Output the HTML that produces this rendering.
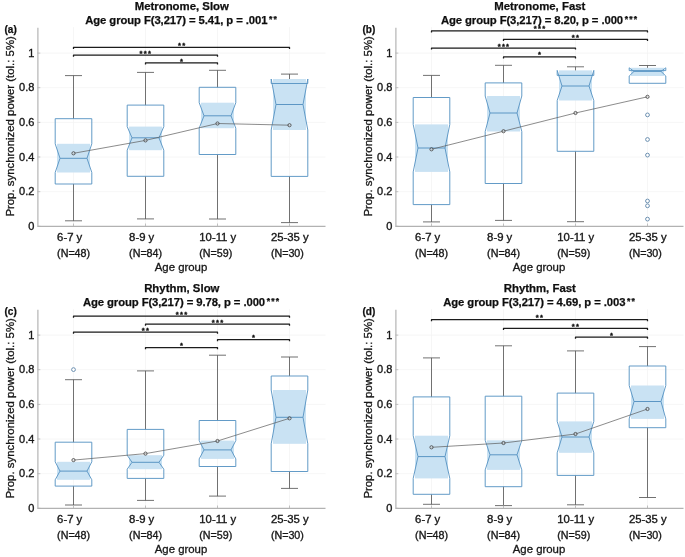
<!DOCTYPE html>
<html lang="en"><head><meta charset="utf-8"><title>Synchronized power by age group</title>
<style>html,body{margin:0;padding:0;background:#fff}body{width:685px;height:557px;overflow:hidden}svg{display:block}
text{font-family:"Liberation Sans", Arial, Helvetica, sans-serif;fill:#222}
.tk{font-size:10.2px;fill:#151515;stroke:#151515;stroke-width:0.32px}.lb{font-size:11.4px;fill:#151515;stroke:#151515;stroke-width:0.3px}.ti{font-size:11.4px;font-weight:bold;fill:#111;stroke:#111;stroke-width:0.25px}.lab{font-size:10px;font-weight:bold;fill:#111;stroke:#111;stroke-width:0.25px}.st{font-size:7.6px;font-weight:bold;fill:#111;letter-spacing:1.25px;stroke:#111;stroke-width:0.35px}
</style></head><body>
<svg width="685" height="557" viewBox="0 0 685 557">
<defs><filter id="soft" x="0" y="0" width="100%" height="100%"><feGaussianBlur stdDeviation="0.4"/></filter></defs>
<rect width="685" height="557" fill="#fff"/>
<g filter="url(#soft)">
<g>
<line x1="37.5" y1="191.7" x2="325.5" y2="191.7" stroke="#f4f4f4" stroke-width="0.8"/>
<line x1="37.5" y1="157.0" x2="325.5" y2="157.0" stroke="#f4f4f4" stroke-width="0.8"/>
<line x1="37.5" y1="122.4" x2="325.5" y2="122.4" stroke="#f4f4f4" stroke-width="0.8"/>
<line x1="37.5" y1="87.7" x2="325.5" y2="87.7" stroke="#f4f4f4" stroke-width="0.8"/>
<line x1="37.5" y1="53.1" x2="325.5" y2="53.1" stroke="#f4f4f4" stroke-width="0.8"/>
<line x1="73.5" y1="27.1" x2="73.5" y2="226.3" stroke="#f4f4f4" stroke-width="0.8"/>
<line x1="145.5" y1="27.1" x2="145.5" y2="226.3" stroke="#f4f4f4" stroke-width="0.8"/>
<line x1="217.5" y1="27.1" x2="217.5" y2="226.3" stroke="#f4f4f4" stroke-width="0.8"/>
<line x1="289.5" y1="27.1" x2="289.5" y2="226.3" stroke="#f4f4f4" stroke-width="0.8"/>
<rect x="57.0" y="143.8" width="33.0" height="28.7" fill="#c9e2f3"/>
<path d="M73.5 118.7V75.6M65.0 75.6H82.0" stroke="#585858" stroke-width="0.85" fill="none"/>
<path d="M73.5 184.0V220.8M65.0 220.8H82.0" stroke="#585858" stroke-width="0.85" fill="none"/>
<path d="M55.2 184.0 L55.2 172.5 L60.0 158.3 L55.2 143.8 L55.2 118.7 L91.8 118.7 L91.8 143.8 L87.0 158.3 L91.8 172.5 L91.8 184.0 Z" fill="none" stroke="#5b96c4" stroke-width="0.95" stroke-linejoin="round"/>
<line x1="60.0" y1="158.3" x2="87.0" y2="158.3" stroke="#5b96c4" stroke-width="1.0"/>
<rect x="129.0" y="126.6" width="33.0" height="23.6" fill="#c9e2f3"/>
<path d="M145.5 105.1V72.4M137.0 72.4H154.0" stroke="#585858" stroke-width="0.85" fill="none"/>
<path d="M145.5 176.3V218.9M137.0 218.9H154.0" stroke="#585858" stroke-width="0.85" fill="none"/>
<path d="M127.2 176.3 L127.2 150.2 L132.0 137.8 L127.2 126.6 L127.2 105.1 L163.8 105.1 L163.8 126.6 L159.0 137.8 L163.8 150.2 L163.8 176.3 Z" fill="none" stroke="#5b96c4" stroke-width="0.95" stroke-linejoin="round"/>
<line x1="132.0" y1="137.8" x2="159.0" y2="137.8" stroke="#5b96c4" stroke-width="1.0"/>
<rect x="201.0" y="102.7" width="33.0" height="25.5" fill="#c9e2f3"/>
<path d="M217.5 87.3V70.3M209.0 70.3H226.0" stroke="#585858" stroke-width="0.85" fill="none"/>
<path d="M217.5 154.5V219.0M209.0 219.0H226.0" stroke="#585858" stroke-width="0.85" fill="none"/>
<path d="M199.2 154.5 L199.2 128.2 L204.0 115.8 L199.2 102.7 L199.2 87.3 L235.8 87.3 L235.8 102.7 L231.0 115.8 L235.8 128.2 L235.8 154.5 Z" fill="none" stroke="#5b96c4" stroke-width="0.95" stroke-linejoin="round"/>
<line x1="204.0" y1="115.8" x2="231.0" y2="115.8" stroke="#5b96c4" stroke-width="1.0"/>
<rect x="273.0" y="79.0" width="33.0" height="51.0" fill="#c9e2f3"/>
<path d="M289.5 79.0V74.1M281.0 74.1H298.0" stroke="#585858" stroke-width="0.85" fill="none"/>
<path d="M289.5 176.4V222.6M281.0 222.6H298.0" stroke="#585858" stroke-width="0.85" fill="none"/>
<path d="M271.2 176.4 L271.2 130.0 L276.0 104.5 L271.2 79.0 L271.2 83.5 L307.8 83.5 L307.8 79.0 L303.0 104.5 L307.8 130.0 L307.8 176.4 Z" fill="none" stroke="#5b96c4" stroke-width="0.95" stroke-linejoin="round"/>
<line x1="276.0" y1="104.5" x2="303.0" y2="104.5" stroke="#5b96c4" stroke-width="1.0"/>
<polyline points="73.5,153.3 145.5,140.4 217.5,123.5 289.5,125.2" fill="none" stroke="#5a5a5a" stroke-width="0.7"/>
<circle cx="73.5" cy="153.3" r="1.6" fill="#fff" fill-opacity="0.3" stroke="#454545" stroke-width="0.85"/>
<circle cx="145.5" cy="140.4" r="1.6" fill="#fff" fill-opacity="0.3" stroke="#454545" stroke-width="0.85"/>
<circle cx="217.5" cy="123.5" r="1.6" fill="#fff" fill-opacity="0.3" stroke="#454545" stroke-width="0.85"/>
<circle cx="289.5" cy="125.2" r="1.6" fill="#fff" fill-opacity="0.3" stroke="#454545" stroke-width="0.85"/>
<path d="M37.9 27.7V226.3H325.5" fill="none" stroke="#b2b2b2" stroke-width="1.15"/>
<line x1="37.5" y1="226.3" x2="40.3" y2="226.3" stroke="#b2b2b2" stroke-width="0.8"/>
<text class="tk" transform="translate(34.4 229.8) scale(1.08 1)" text-anchor="end">0</text>
<line x1="37.5" y1="191.7" x2="40.3" y2="191.7" stroke="#b2b2b2" stroke-width="0.8"/>
<text class="tk" transform="translate(34.4 195.2) scale(1.08 1)" text-anchor="end">0.2</text>
<line x1="37.5" y1="157.0" x2="40.3" y2="157.0" stroke="#b2b2b2" stroke-width="0.8"/>
<text class="tk" transform="translate(34.4 160.5) scale(1.08 1)" text-anchor="end">0.4</text>
<line x1="37.5" y1="122.4" x2="40.3" y2="122.4" stroke="#b2b2b2" stroke-width="0.8"/>
<text class="tk" transform="translate(34.4 125.9) scale(1.08 1)" text-anchor="end">0.6</text>
<line x1="37.5" y1="87.7" x2="40.3" y2="87.7" stroke="#b2b2b2" stroke-width="0.8"/>
<text class="tk" transform="translate(34.4 91.2) scale(1.08 1)" text-anchor="end">0.8</text>
<line x1="37.5" y1="53.1" x2="40.3" y2="53.1" stroke="#b2b2b2" stroke-width="0.8"/>
<text class="tk" transform="translate(34.4 56.6) scale(1.08 1)" text-anchor="end">1</text>
<line x1="73.5" y1="226.3" x2="73.5" y2="223.5" stroke="#b2b2b2" stroke-width="0.8"/>
<text class="tk" transform="translate(57.1 241.0) scale(1.11 1)">6-7 y</text>
<text class="tk" transform="translate(57.1 256.6) scale(1.05 1)">(N=48)</text>
<line x1="145.5" y1="226.3" x2="145.5" y2="223.5" stroke="#b2b2b2" stroke-width="0.8"/>
<text class="tk" transform="translate(129.1 241.0) scale(1.11 1)">8-9 y</text>
<text class="tk" transform="translate(129.1 256.6) scale(1.05 1)">(N=84)</text>
<line x1="217.5" y1="226.3" x2="217.5" y2="223.5" stroke="#b2b2b2" stroke-width="0.8"/>
<text class="tk" transform="translate(199.3 241.0) scale(1.11 1)">10-11 y</text>
<text class="tk" transform="translate(199.3 256.6) scale(1.05 1)">(N=59)</text>
<line x1="289.5" y1="226.3" x2="289.5" y2="223.5" stroke="#b2b2b2" stroke-width="0.8"/>
<text class="tk" transform="translate(270.9 241.0) scale(1.11 1)">25-35 y</text>
<text class="tk" transform="translate(270.9 256.6) scale(1.05 1)">(N=30)</text>
<text class="lb" x="181.0" y="271.2" text-anchor="middle">Age group</text>
<text class="lb" transform="translate(13.6 126.4) rotate(-90)" text-anchor="middle">Prop. synchronized power (tol.: 5%)</text>
<text class="ti" x="181.8" y="9.6" text-anchor="middle">Metronome, Slow</text>
<text class="ti" x="85.2" y="23.8" style="font-size:11.3px;letter-spacing:-0.088px">Age group F(3,217) = 5.41, p = .001<tspan dx="1.6" dy="-1.8" style="font-size:8.6px;letter-spacing:1.25px">**</tspan></text>
<text class="lab" x="4.5" y="32.6">(a)</text>
<path d="M73.5 48.9V47.3H289.5V48.9" fill="none" stroke="#1a1a1a" stroke-width="1.25" stroke-linejoin="round"/>
<text class="st" x="182.2" y="47.6" text-anchor="middle">**</text>
<path d="M73.5 56.7V55.1H217.5V56.7" fill="none" stroke="#1a1a1a" stroke-width="1.25" stroke-linejoin="round"/>
<text class="st" x="145.9" y="55.9" text-anchor="middle">***</text>
<path d="M145.5 64.4V62.8H217.5V64.4" fill="none" stroke="#1a1a1a" stroke-width="1.25" stroke-linejoin="round"/>
<text class="st" x="182.1" y="63.6" text-anchor="middle">*</text>
</g>
<g>
<line x1="395.5" y1="191.7" x2="683.5" y2="191.7" stroke="#f4f4f4" stroke-width="0.8"/>
<line x1="395.5" y1="157.0" x2="683.5" y2="157.0" stroke="#f4f4f4" stroke-width="0.8"/>
<line x1="395.5" y1="122.4" x2="683.5" y2="122.4" stroke="#f4f4f4" stroke-width="0.8"/>
<line x1="395.5" y1="87.7" x2="683.5" y2="87.7" stroke="#f4f4f4" stroke-width="0.8"/>
<line x1="395.5" y1="53.1" x2="683.5" y2="53.1" stroke="#f4f4f4" stroke-width="0.8"/>
<line x1="431.5" y1="27.1" x2="431.5" y2="226.3" stroke="#f4f4f4" stroke-width="0.8"/>
<line x1="503.5" y1="27.1" x2="503.5" y2="226.3" stroke="#f4f4f4" stroke-width="0.8"/>
<line x1="575.5" y1="27.1" x2="575.5" y2="226.3" stroke="#f4f4f4" stroke-width="0.8"/>
<line x1="647.5" y1="27.1" x2="647.5" y2="226.3" stroke="#f4f4f4" stroke-width="0.8"/>
<rect x="415.0" y="124.4" width="33.0" height="47.5" fill="#c9e2f3"/>
<path d="M431.5 97.5V75.4M423.0 75.4H440.0" stroke="#585858" stroke-width="0.85" fill="none"/>
<path d="M431.5 204.6V221.9M423.0 221.9H440.0" stroke="#585858" stroke-width="0.85" fill="none"/>
<path d="M413.2 204.6 L413.2 171.9 L418.0 148.0 L413.2 124.4 L413.2 97.5 L449.8 97.5 L449.8 124.4 L445.0 148.0 L449.8 171.9 L449.8 204.6 Z" fill="none" stroke="#5b96c4" stroke-width="0.95" stroke-linejoin="round"/>
<line x1="418.0" y1="148.0" x2="445.0" y2="148.0" stroke="#5b96c4" stroke-width="1.0"/>
<rect x="487.0" y="96.0" width="33.0" height="35.5" fill="#c9e2f3"/>
<path d="M503.5 82.9V65.3M495.0 65.3H512.0" stroke="#585858" stroke-width="0.85" fill="none"/>
<path d="M503.5 183.5V220.4M495.0 220.4H512.0" stroke="#585858" stroke-width="0.85" fill="none"/>
<path d="M485.2 183.5 L485.2 131.5 L490.0 113.0 L485.2 96.0 L485.2 82.9 L521.8 82.9 L521.8 96.0 L517.0 113.0 L521.8 131.5 L521.8 183.5 Z" fill="none" stroke="#5b96c4" stroke-width="0.95" stroke-linejoin="round"/>
<line x1="490.0" y1="113.0" x2="517.0" y2="113.0" stroke="#5b96c4" stroke-width="1.0"/>
<rect x="559.0" y="70.4" width="33.0" height="30.1" fill="#c9e2f3"/>
<path d="M575.5 70.4V66.8M567.0 66.8H584.0" stroke="#585858" stroke-width="0.85" fill="none"/>
<path d="M575.5 151.3V221.7M567.0 221.7H584.0" stroke="#585858" stroke-width="0.85" fill="none"/>
<path d="M557.2 151.3 L557.2 100.5 L562.0 86.0 L557.2 70.4 L557.2 75.4 L593.8 75.4 L593.8 70.4 L589.0 86.0 L593.8 100.5 L593.8 151.3 Z" fill="none" stroke="#5b96c4" stroke-width="0.95" stroke-linejoin="round"/>
<line x1="562.0" y1="86.0" x2="589.0" y2="86.0" stroke="#5b96c4" stroke-width="1.0"/>
<rect x="631.0" y="67.8" width="33.0" height="8.2" fill="#c9e2f3"/>
<path d="M647.5 67.8V65.5M639.0 65.5H656.0" stroke="#585858" stroke-width="0.85" fill="none"/>
<path d="M629.2 83.3 L629.2 76.0 L634.0 71.4 L629.2 67.8 L629.2 70.6 L665.8 70.6 L665.8 67.8 L661.0 71.4 L665.8 76.0 L665.8 83.3 Z" fill="none" stroke="#5b96c4" stroke-width="0.95" stroke-linejoin="round"/>
<line x1="634.0" y1="71.4" x2="661.0" y2="71.4" stroke="#5b96c4" stroke-width="1.0"/>
<circle cx="647.5" cy="114.9" r="1.9" fill="#fff" stroke="#6b8fb0" stroke-width="1.0"/>
<circle cx="647.5" cy="139.5" r="1.9" fill="#fff" stroke="#6b8fb0" stroke-width="1.0"/>
<circle cx="647.5" cy="155.1" r="1.9" fill="#fff" stroke="#6b8fb0" stroke-width="1.0"/>
<circle cx="647.5" cy="201.0" r="1.9" fill="#fff" stroke="#6b8fb0" stroke-width="1.0"/>
<circle cx="647.5" cy="205.8" r="1.9" fill="#fff" stroke="#6b8fb0" stroke-width="1.0"/>
<circle cx="647.5" cy="219.1" r="1.9" fill="#fff" stroke="#6b8fb0" stroke-width="1.0"/>
<polyline points="431.5,149.3 503.5,131.2 575.5,113.0 647.5,96.8" fill="none" stroke="#5a5a5a" stroke-width="0.7"/>
<circle cx="431.5" cy="149.3" r="1.6" fill="#fff" fill-opacity="0.3" stroke="#454545" stroke-width="0.85"/>
<circle cx="503.5" cy="131.2" r="1.6" fill="#fff" fill-opacity="0.3" stroke="#454545" stroke-width="0.85"/>
<circle cx="575.5" cy="113.0" r="1.6" fill="#fff" fill-opacity="0.3" stroke="#454545" stroke-width="0.85"/>
<circle cx="647.5" cy="96.8" r="1.6" fill="#fff" fill-opacity="0.3" stroke="#454545" stroke-width="0.85"/>
<path d="M395.9 27.7V226.3H683.5" fill="none" stroke="#b2b2b2" stroke-width="1.15"/>
<line x1="395.5" y1="226.3" x2="398.3" y2="226.3" stroke="#b2b2b2" stroke-width="0.8"/>
<text class="tk" transform="translate(392.4 229.8) scale(1.08 1)" text-anchor="end">0</text>
<line x1="395.5" y1="191.7" x2="398.3" y2="191.7" stroke="#b2b2b2" stroke-width="0.8"/>
<text class="tk" transform="translate(392.4 195.2) scale(1.08 1)" text-anchor="end">0.2</text>
<line x1="395.5" y1="157.0" x2="398.3" y2="157.0" stroke="#b2b2b2" stroke-width="0.8"/>
<text class="tk" transform="translate(392.4 160.5) scale(1.08 1)" text-anchor="end">0.4</text>
<line x1="395.5" y1="122.4" x2="398.3" y2="122.4" stroke="#b2b2b2" stroke-width="0.8"/>
<text class="tk" transform="translate(392.4 125.9) scale(1.08 1)" text-anchor="end">0.6</text>
<line x1="395.5" y1="87.7" x2="398.3" y2="87.7" stroke="#b2b2b2" stroke-width="0.8"/>
<text class="tk" transform="translate(392.4 91.2) scale(1.08 1)" text-anchor="end">0.8</text>
<line x1="395.5" y1="53.1" x2="398.3" y2="53.1" stroke="#b2b2b2" stroke-width="0.8"/>
<text class="tk" transform="translate(392.4 56.6) scale(1.08 1)" text-anchor="end">1</text>
<line x1="431.5" y1="226.3" x2="431.5" y2="223.5" stroke="#b2b2b2" stroke-width="0.8"/>
<text class="tk" transform="translate(415.1 241.0) scale(1.11 1)">6-7 y</text>
<text class="tk" transform="translate(415.1 256.6) scale(1.05 1)">(N=48)</text>
<line x1="503.5" y1="226.3" x2="503.5" y2="223.5" stroke="#b2b2b2" stroke-width="0.8"/>
<text class="tk" transform="translate(487.1 241.0) scale(1.11 1)">8-9 y</text>
<text class="tk" transform="translate(487.1 256.6) scale(1.05 1)">(N=84)</text>
<line x1="575.5" y1="226.3" x2="575.5" y2="223.5" stroke="#b2b2b2" stroke-width="0.8"/>
<text class="tk" transform="translate(557.3 241.0) scale(1.11 1)">10-11 y</text>
<text class="tk" transform="translate(557.3 256.6) scale(1.05 1)">(N=59)</text>
<line x1="647.5" y1="226.3" x2="647.5" y2="223.5" stroke="#b2b2b2" stroke-width="0.8"/>
<text class="tk" transform="translate(628.9 241.0) scale(1.11 1)">25-35 y</text>
<text class="tk" transform="translate(628.9 256.6) scale(1.05 1)">(N=30)</text>
<text class="lb" x="539.0" y="271.2" text-anchor="middle">Age group</text>
<text class="lb" transform="translate(371.6 126.4) rotate(-90)" text-anchor="middle">Prop. synchronized power (tol.: 5%)</text>
<text class="ti" x="539.8" y="9.6" text-anchor="middle">Metronome, Fast</text>
<text class="ti" x="440.9" y="23.8" style="font-size:11.3px;letter-spacing:-0.088px">Age group F(3,217) = 8.20, p = .000<tspan dx="1.6" dy="-1.8" style="font-size:8.6px;letter-spacing:1.25px">***</tspan></text>
<text class="lab" x="362.5" y="32.6">(b)</text>
<path d="M431.5 32.5V30.9H647.5V32.5" fill="none" stroke="#1a1a1a" stroke-width="1.25" stroke-linejoin="round"/>
<text class="st" x="540.1" y="31.2" text-anchor="middle">***</text>
<path d="M503.5 40.9V39.3H647.5V40.9" fill="none" stroke="#1a1a1a" stroke-width="1.25" stroke-linejoin="round"/>
<text class="st" x="575.9" y="39.8" text-anchor="middle">**</text>
<path d="M431.5 49.6V48.0H575.5V49.6" fill="none" stroke="#1a1a1a" stroke-width="1.25" stroke-linejoin="round"/>
<text class="st" x="504.0" y="48.6" text-anchor="middle">***</text>
<path d="M503.5 58.5V56.9H575.5V58.5" fill="none" stroke="#1a1a1a" stroke-width="1.25" stroke-linejoin="round"/>
<text class="st" x="540.2" y="57.4" text-anchor="middle">*</text>
</g>
<g>
<line x1="37.5" y1="473.7" x2="325.5" y2="473.7" stroke="#f4f4f4" stroke-width="0.8"/>
<line x1="37.5" y1="439.0" x2="325.5" y2="439.0" stroke="#f4f4f4" stroke-width="0.8"/>
<line x1="37.5" y1="404.4" x2="325.5" y2="404.4" stroke="#f4f4f4" stroke-width="0.8"/>
<line x1="37.5" y1="369.7" x2="325.5" y2="369.7" stroke="#f4f4f4" stroke-width="0.8"/>
<line x1="37.5" y1="335.1" x2="325.5" y2="335.1" stroke="#f4f4f4" stroke-width="0.8"/>
<line x1="73.5" y1="309.1" x2="73.5" y2="508.3" stroke="#f4f4f4" stroke-width="0.8"/>
<line x1="145.5" y1="309.1" x2="145.5" y2="508.3" stroke="#f4f4f4" stroke-width="0.8"/>
<line x1="217.5" y1="309.1" x2="217.5" y2="508.3" stroke="#f4f4f4" stroke-width="0.8"/>
<line x1="289.5" y1="309.1" x2="289.5" y2="508.3" stroke="#f4f4f4" stroke-width="0.8"/>
<rect x="57.0" y="461.8" width="33.0" height="18.0" fill="#c9e2f3"/>
<path d="M73.5 442.2V379.7M65.0 379.7H82.0" stroke="#585858" stroke-width="0.85" fill="none"/>
<path d="M73.5 486.1V505.0M65.0 505.0H82.0" stroke="#585858" stroke-width="0.85" fill="none"/>
<path d="M55.2 486.1 L55.2 479.8 L60.0 471.1 L55.2 461.8 L55.2 442.2 L91.8 442.2 L91.8 461.8 L87.0 471.1 L91.8 479.8 L91.8 486.1 Z" fill="none" stroke="#5b96c4" stroke-width="0.95" stroke-linejoin="round"/>
<line x1="60.0" y1="471.1" x2="87.0" y2="471.1" stroke="#5b96c4" stroke-width="1.0"/>
<rect x="129.0" y="455.2" width="33.0" height="14.0" fill="#c9e2f3"/>
<path d="M145.5 429.4V370.9M137.0 370.9H154.0" stroke="#585858" stroke-width="0.85" fill="none"/>
<path d="M145.5 478.4V500.4M137.0 500.4H154.0" stroke="#585858" stroke-width="0.85" fill="none"/>
<path d="M127.2 478.4 L127.2 469.2 L132.0 462.3 L127.2 455.2 L127.2 429.4 L163.8 429.4 L163.8 455.2 L159.0 462.3 L163.8 469.2 L163.8 478.4 Z" fill="none" stroke="#5b96c4" stroke-width="0.95" stroke-linejoin="round"/>
<line x1="132.0" y1="462.3" x2="159.0" y2="462.3" stroke="#5b96c4" stroke-width="1.0"/>
<rect x="201.0" y="440.6" width="33.0" height="18.3" fill="#c9e2f3"/>
<path d="M217.5 420.5V355.2M209.0 355.2H226.0" stroke="#585858" stroke-width="0.85" fill="none"/>
<path d="M217.5 466.5V496.1M209.0 496.1H226.0" stroke="#585858" stroke-width="0.85" fill="none"/>
<path d="M199.2 466.5 L199.2 458.9 L204.0 449.9 L199.2 440.6 L199.2 420.5 L235.8 420.5 L235.8 440.6 L231.0 449.9 L235.8 458.9 L235.8 466.5 Z" fill="none" stroke="#5b96c4" stroke-width="0.95" stroke-linejoin="round"/>
<line x1="204.0" y1="449.9" x2="231.0" y2="449.9" stroke="#5b96c4" stroke-width="1.0"/>
<rect x="273.0" y="390.0" width="33.0" height="53.8" fill="#c9e2f3"/>
<path d="M289.5 376.0V357.0M281.0 357.0H298.0" stroke="#585858" stroke-width="0.85" fill="none"/>
<path d="M289.5 471.5V488.4M281.0 488.4H298.0" stroke="#585858" stroke-width="0.85" fill="none"/>
<path d="M271.2 471.5 L271.2 443.8 L276.0 417.3 L271.2 390.0 L271.2 376.0 L307.8 376.0 L307.8 390.0 L303.0 417.3 L307.8 443.8 L307.8 471.5 Z" fill="none" stroke="#5b96c4" stroke-width="0.95" stroke-linejoin="round"/>
<line x1="276.0" y1="417.3" x2="303.0" y2="417.3" stroke="#5b96c4" stroke-width="1.0"/>
<circle cx="73.5" cy="369.6" r="1.9" fill="#fff" stroke="#6b8fb0" stroke-width="1.0"/>
<polyline points="73.5,460.1 145.5,453.6 217.5,441.0 289.5,418.3" fill="none" stroke="#5a5a5a" stroke-width="0.7"/>
<circle cx="73.5" cy="460.1" r="1.6" fill="#fff" fill-opacity="0.3" stroke="#454545" stroke-width="0.85"/>
<circle cx="145.5" cy="453.6" r="1.6" fill="#fff" fill-opacity="0.3" stroke="#454545" stroke-width="0.85"/>
<circle cx="217.5" cy="441.0" r="1.6" fill="#fff" fill-opacity="0.3" stroke="#454545" stroke-width="0.85"/>
<circle cx="289.5" cy="418.3" r="1.6" fill="#fff" fill-opacity="0.3" stroke="#454545" stroke-width="0.85"/>
<path d="M37.9 309.7V508.3H325.5" fill="none" stroke="#b2b2b2" stroke-width="1.15"/>
<line x1="37.5" y1="508.3" x2="40.3" y2="508.3" stroke="#b2b2b2" stroke-width="0.8"/>
<text class="tk" transform="translate(34.4 511.8) scale(1.08 1)" text-anchor="end">0</text>
<line x1="37.5" y1="473.7" x2="40.3" y2="473.7" stroke="#b2b2b2" stroke-width="0.8"/>
<text class="tk" transform="translate(34.4 477.2) scale(1.08 1)" text-anchor="end">0.2</text>
<line x1="37.5" y1="439.0" x2="40.3" y2="439.0" stroke="#b2b2b2" stroke-width="0.8"/>
<text class="tk" transform="translate(34.4 442.5) scale(1.08 1)" text-anchor="end">0.4</text>
<line x1="37.5" y1="404.4" x2="40.3" y2="404.4" stroke="#b2b2b2" stroke-width="0.8"/>
<text class="tk" transform="translate(34.4 407.9) scale(1.08 1)" text-anchor="end">0.6</text>
<line x1="37.5" y1="369.7" x2="40.3" y2="369.7" stroke="#b2b2b2" stroke-width="0.8"/>
<text class="tk" transform="translate(34.4 373.2) scale(1.08 1)" text-anchor="end">0.8</text>
<line x1="37.5" y1="335.1" x2="40.3" y2="335.1" stroke="#b2b2b2" stroke-width="0.8"/>
<text class="tk" transform="translate(34.4 338.6) scale(1.08 1)" text-anchor="end">1</text>
<line x1="73.5" y1="508.3" x2="73.5" y2="505.5" stroke="#b2b2b2" stroke-width="0.8"/>
<text class="tk" transform="translate(57.1 523.0) scale(1.11 1)">6-7 y</text>
<text class="tk" transform="translate(57.1 538.6) scale(1.05 1)">(N=48)</text>
<line x1="145.5" y1="508.3" x2="145.5" y2="505.5" stroke="#b2b2b2" stroke-width="0.8"/>
<text class="tk" transform="translate(129.1 523.0) scale(1.11 1)">8-9 y</text>
<text class="tk" transform="translate(129.1 538.6) scale(1.05 1)">(N=84)</text>
<line x1="217.5" y1="508.3" x2="217.5" y2="505.5" stroke="#b2b2b2" stroke-width="0.8"/>
<text class="tk" transform="translate(199.3 523.0) scale(1.11 1)">10-11 y</text>
<text class="tk" transform="translate(199.3 538.6) scale(1.05 1)">(N=59)</text>
<line x1="289.5" y1="508.3" x2="289.5" y2="505.5" stroke="#b2b2b2" stroke-width="0.8"/>
<text class="tk" transform="translate(270.9 523.0) scale(1.11 1)">25-35 y</text>
<text class="tk" transform="translate(270.9 538.6) scale(1.05 1)">(N=30)</text>
<text class="lb" x="181.0" y="553.2" text-anchor="middle">Age group</text>
<text class="lb" transform="translate(13.6 408.4) rotate(-90)" text-anchor="middle">Prop. synchronized power (tol.: 5%)</text>
<text class="ti" x="181.8" y="291.6" text-anchor="middle">Rhythm, Slow</text>
<text class="ti" x="82.9" y="305.8" style="font-size:11.3px;letter-spacing:-0.088px">Age group F(3,217) = 9.78, p = .000<tspan dx="1.6" dy="-1.8" style="font-size:8.6px;letter-spacing:1.25px">***</tspan></text>
<text class="lab" x="4.5" y="314.6">(c)</text>
<path d="M73.5 317.8V316.2H289.5V317.8" fill="none" stroke="#1a1a1a" stroke-width="1.25" stroke-linejoin="round"/>
<text class="st" x="182.1" y="316.8" text-anchor="middle">***</text>
<path d="M145.5 325.8V324.2H289.5V325.8" fill="none" stroke="#1a1a1a" stroke-width="1.25" stroke-linejoin="round"/>
<text class="st" x="218.1" y="324.7" text-anchor="middle">***</text>
<path d="M73.5 333.8V332.2H217.5V333.8" fill="none" stroke="#1a1a1a" stroke-width="1.25" stroke-linejoin="round"/>
<text class="st" x="146.0" y="332.5" text-anchor="middle">**</text>
<path d="M217.5 341.2V339.6H289.5V341.2" fill="none" stroke="#1a1a1a" stroke-width="1.25" stroke-linejoin="round"/>
<text class="st" x="254.2" y="340.2" text-anchor="middle">*</text>
<path d="M145.5 349.2V347.6H217.5V349.2" fill="none" stroke="#1a1a1a" stroke-width="1.25" stroke-linejoin="round"/>
<text class="st" x="182.1" y="348.1" text-anchor="middle">*</text>
</g>
<g>
<line x1="395.5" y1="473.7" x2="683.5" y2="473.7" stroke="#f4f4f4" stroke-width="0.8"/>
<line x1="395.5" y1="439.0" x2="683.5" y2="439.0" stroke="#f4f4f4" stroke-width="0.8"/>
<line x1="395.5" y1="404.4" x2="683.5" y2="404.4" stroke="#f4f4f4" stroke-width="0.8"/>
<line x1="395.5" y1="369.7" x2="683.5" y2="369.7" stroke="#f4f4f4" stroke-width="0.8"/>
<line x1="395.5" y1="335.1" x2="683.5" y2="335.1" stroke="#f4f4f4" stroke-width="0.8"/>
<line x1="431.5" y1="309.1" x2="431.5" y2="508.3" stroke="#f4f4f4" stroke-width="0.8"/>
<line x1="503.5" y1="309.1" x2="503.5" y2="508.3" stroke="#f4f4f4" stroke-width="0.8"/>
<line x1="575.5" y1="309.1" x2="575.5" y2="508.3" stroke="#f4f4f4" stroke-width="0.8"/>
<line x1="647.5" y1="309.1" x2="647.5" y2="508.3" stroke="#f4f4f4" stroke-width="0.8"/>
<rect x="415.0" y="435.7" width="33.0" height="42.7" fill="#c9e2f3"/>
<path d="M431.5 396.9V357.9M423.0 357.9H440.0" stroke="#585858" stroke-width="0.85" fill="none"/>
<path d="M431.5 494.3V504.3M423.0 504.3H440.0" stroke="#585858" stroke-width="0.85" fill="none"/>
<path d="M413.2 494.3 L413.2 478.4 L418.0 456.6 L413.2 435.7 L413.2 396.9 L449.8 396.9 L449.8 435.7 L445.0 456.6 L449.8 478.4 L449.8 494.3 Z" fill="none" stroke="#5b96c4" stroke-width="0.95" stroke-linejoin="round"/>
<line x1="418.0" y1="456.6" x2="445.0" y2="456.6" stroke="#5b96c4" stroke-width="1.0"/>
<rect x="487.0" y="440.3" width="33.0" height="29.6" fill="#c9e2f3"/>
<path d="M503.5 396.2V345.8M495.0 345.8H512.0" stroke="#585858" stroke-width="0.85" fill="none"/>
<path d="M503.5 486.7V505.6M495.0 505.6H512.0" stroke="#585858" stroke-width="0.85" fill="none"/>
<path d="M485.2 486.7 L485.2 469.9 L490.0 454.8 L485.2 440.3 L485.2 396.2 L521.8 396.2 L521.8 440.3 L517.0 454.8 L521.8 469.9 L521.8 486.7 Z" fill="none" stroke="#5b96c4" stroke-width="0.95" stroke-linejoin="round"/>
<line x1="490.0" y1="454.8" x2="517.0" y2="454.8" stroke="#5b96c4" stroke-width="1.0"/>
<rect x="559.0" y="421.4" width="33.0" height="31.4" fill="#c9e2f3"/>
<path d="M575.5 393.1V350.9M567.0 350.9H584.0" stroke="#585858" stroke-width="0.85" fill="none"/>
<path d="M575.5 475.4V504.8M567.0 504.8H584.0" stroke="#585858" stroke-width="0.85" fill="none"/>
<path d="M557.2 475.4 L557.2 452.8 L562.0 437.0 L557.2 421.4 L557.2 393.1 L593.8 393.1 L593.8 421.4 L589.0 437.0 L593.8 452.8 L593.8 475.4 Z" fill="none" stroke="#5b96c4" stroke-width="0.95" stroke-linejoin="round"/>
<line x1="562.0" y1="437.0" x2="589.0" y2="437.0" stroke="#5b96c4" stroke-width="1.0"/>
<rect x="631.0" y="385.5" width="33.0" height="33.4" fill="#c9e2f3"/>
<path d="M647.5 366.0V346.6M639.0 346.6H656.0" stroke="#585858" stroke-width="0.85" fill="none"/>
<path d="M647.5 427.7V497.5M639.0 497.5H656.0" stroke="#585858" stroke-width="0.85" fill="none"/>
<path d="M629.2 427.7 L629.2 418.9 L634.0 401.5 L629.2 385.5 L629.2 366.0 L665.8 366.0 L665.8 385.5 L661.0 401.5 L665.8 418.9 L665.8 427.7 Z" fill="none" stroke="#5b96c4" stroke-width="0.95" stroke-linejoin="round"/>
<line x1="634.0" y1="401.5" x2="661.0" y2="401.5" stroke="#5b96c4" stroke-width="1.0"/>
<polyline points="431.5,447.3 503.5,443.0 575.5,434.0 647.5,409.0" fill="none" stroke="#5a5a5a" stroke-width="0.7"/>
<circle cx="431.5" cy="447.3" r="1.6" fill="#fff" fill-opacity="0.3" stroke="#454545" stroke-width="0.85"/>
<circle cx="503.5" cy="443.0" r="1.6" fill="#fff" fill-opacity="0.3" stroke="#454545" stroke-width="0.85"/>
<circle cx="575.5" cy="434.0" r="1.6" fill="#fff" fill-opacity="0.3" stroke="#454545" stroke-width="0.85"/>
<circle cx="647.5" cy="409.0" r="1.6" fill="#fff" fill-opacity="0.3" stroke="#454545" stroke-width="0.85"/>
<path d="M395.9 309.7V508.3H683.5" fill="none" stroke="#b2b2b2" stroke-width="1.15"/>
<line x1="395.5" y1="508.3" x2="398.3" y2="508.3" stroke="#b2b2b2" stroke-width="0.8"/>
<text class="tk" transform="translate(392.4 511.8) scale(1.08 1)" text-anchor="end">0</text>
<line x1="395.5" y1="473.7" x2="398.3" y2="473.7" stroke="#b2b2b2" stroke-width="0.8"/>
<text class="tk" transform="translate(392.4 477.2) scale(1.08 1)" text-anchor="end">0.2</text>
<line x1="395.5" y1="439.0" x2="398.3" y2="439.0" stroke="#b2b2b2" stroke-width="0.8"/>
<text class="tk" transform="translate(392.4 442.5) scale(1.08 1)" text-anchor="end">0.4</text>
<line x1="395.5" y1="404.4" x2="398.3" y2="404.4" stroke="#b2b2b2" stroke-width="0.8"/>
<text class="tk" transform="translate(392.4 407.9) scale(1.08 1)" text-anchor="end">0.6</text>
<line x1="395.5" y1="369.7" x2="398.3" y2="369.7" stroke="#b2b2b2" stroke-width="0.8"/>
<text class="tk" transform="translate(392.4 373.2) scale(1.08 1)" text-anchor="end">0.8</text>
<line x1="395.5" y1="335.1" x2="398.3" y2="335.1" stroke="#b2b2b2" stroke-width="0.8"/>
<text class="tk" transform="translate(392.4 338.6) scale(1.08 1)" text-anchor="end">1</text>
<line x1="431.5" y1="508.3" x2="431.5" y2="505.5" stroke="#b2b2b2" stroke-width="0.8"/>
<text class="tk" transform="translate(415.1 523.0) scale(1.11 1)">6-7 y</text>
<text class="tk" transform="translate(415.1 538.6) scale(1.05 1)">(N=48)</text>
<line x1="503.5" y1="508.3" x2="503.5" y2="505.5" stroke="#b2b2b2" stroke-width="0.8"/>
<text class="tk" transform="translate(487.1 523.0) scale(1.11 1)">8-9 y</text>
<text class="tk" transform="translate(487.1 538.6) scale(1.05 1)">(N=84)</text>
<line x1="575.5" y1="508.3" x2="575.5" y2="505.5" stroke="#b2b2b2" stroke-width="0.8"/>
<text class="tk" transform="translate(557.3 523.0) scale(1.11 1)">10-11 y</text>
<text class="tk" transform="translate(557.3 538.6) scale(1.05 1)">(N=59)</text>
<line x1="647.5" y1="508.3" x2="647.5" y2="505.5" stroke="#b2b2b2" stroke-width="0.8"/>
<text class="tk" transform="translate(628.9 523.0) scale(1.11 1)">25-35 y</text>
<text class="tk" transform="translate(628.9 538.6) scale(1.05 1)">(N=30)</text>
<text class="lb" x="539.0" y="553.2" text-anchor="middle">Age group</text>
<text class="lb" transform="translate(371.6 408.4) rotate(-90)" text-anchor="middle">Prop. synchronized power (tol.: 5%)</text>
<text class="ti" x="539.8" y="291.6" text-anchor="middle">Rhythm, Fast</text>
<text class="ti" x="443.2" y="305.8" style="font-size:11.3px;letter-spacing:-0.088px">Age group F(3,217) = 4.69, p = .003<tspan dx="1.6" dy="-1.8" style="font-size:8.6px;letter-spacing:1.25px">**</tspan></text>
<text class="lab" x="362.5" y="314.6">(d)</text>
<path d="M431.5 321.3V319.7H647.5V321.3" fill="none" stroke="#1a1a1a" stroke-width="1.25" stroke-linejoin="round"/>
<text class="st" x="540.0" y="320.2" text-anchor="middle">**</text>
<path d="M503.5 330.0V328.4H647.5V330.0" fill="none" stroke="#1a1a1a" stroke-width="1.25" stroke-linejoin="round"/>
<text class="st" x="576.0" y="328.9" text-anchor="middle">**</text>
<path d="M575.5 338.7V337.1H647.5V338.7" fill="none" stroke="#1a1a1a" stroke-width="1.25" stroke-linejoin="round"/>
<text class="st" x="612.2" y="337.7" text-anchor="middle">*</text>
</g>
</g></svg></body></html>
